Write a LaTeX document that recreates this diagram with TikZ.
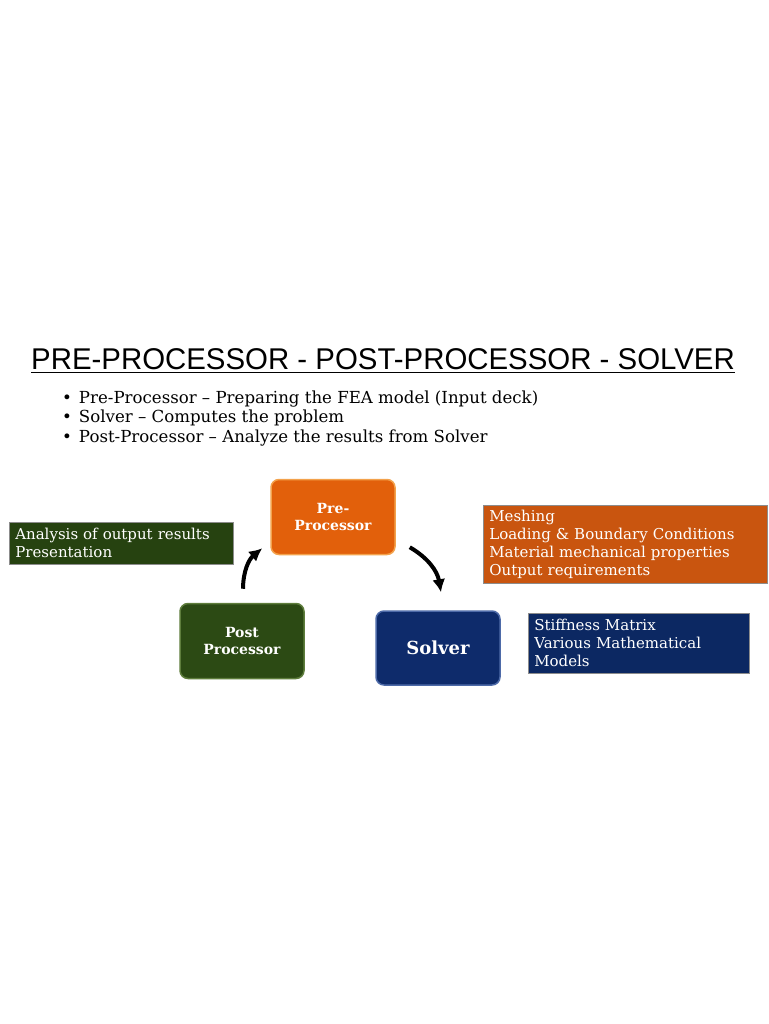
\documentclass[tikz,border=0pt]{standalone}
\usepackage{fontspec}
\setmainfont{DejaVu Serif}
\newfontfamily\titlefont{Liberation Sans}
\usetikzlibrary{arrows.meta,positioning,calc}
\definecolor{preorange}{HTML}{E2600B}
\definecolor{preborder}{HTML}{F3A24C}
\definecolor{postgreen}{HTML}{2C4A14}
\definecolor{postborder}{HTML}{5E7D3C}
\definecolor{solvernavy}{HTML}{0E2B6B}
\definecolor{solverborder}{HTML}{4D6AA8}
\definecolor{noteorange}{HTML}{C9550F}
\definecolor{notegreen}{HTML}{264210}
\definecolor{notenavy}{HTML}{0C2862}
\tikzstyle{stage} = [draw, line width=1.5pt, rounded corners=8pt, text=white, font=\bfseries\fontsize{14}{17.5}\selectfont, align=center, minimum width=124pt, minimum height=75pt]
\tikzstyle{note} = [draw=black!45, line width=0.6pt, text=white, font=\fontsize{15}{18}\selectfont, align=left, anchor=north west, inner xsep=6pt, inner ysep=3pt]
\tikzstyle{Arrow} = [-{Latex[length=13pt,width=13pt]}, line width=4pt]

\begin{document}
\begin{tikzpicture}[x=1pt,y=-1pt]
            \useasboundingbox (0,0) rectangle (768,1024);
            %%%%% Title %%%%%
            \node (title) [anchor=base west, inner sep=0pt] at (31,369) {\titlefont\fontsize{30}{36}\selectfont\scalebox{0.98}[1]{PRE-PROCESSOR - POST-PROCESSOR - SOLVER}};
            \draw [line width=1.4pt] ($(title.south west)+(0,3)$) -- ($(title.south east)+(0,3)$);
            \node (bullets) [anchor=base west, inner sep=0pt, align=left, font=\fontsize{16.6}{19.5}\selectfont] at (62,442) {%
              •\hspace{7pt}Pre-Processor – Preparing the FEA model (Input deck)\\
              •\hspace{7pt}Solver – Computes the problem\\
              •\hspace{7pt}Post-Processor – Analyze the results from Solver};
            %%%%% Stages %%%%%
            \node (pre) [stage, fill=preorange, draw=preborder] at (333,517) {Pre-\\Processor};
            \node (post) [stage, fill=postgreen, draw=postborder] at (242,641) {Post\\Processor};
            \node (solver) [stage, fill=solvernavy, draw=solverborder, minimum height=74pt, font=\bfseries\fontsize{18}{22}\selectfont] at (438,648) {Solver};
            %%%%% Notes %%%%%
            \node (analysis) [note, fill=notegreen, text width=212pt, minimum height=42pt] at (9,522) {Analysis of output results\\Presentation};
            \node (meshing) [note, fill=noteorange, text width=272pt, minimum height=78pt] at (483,505) {Meshing\\Loading \& Boundary Conditions\\Material mechanical properties\\Output requirements};
            \node (stiffness) [note, fill=notenavy, text width=209pt, minimum height=60pt] at (528,613) {Stiffness Matrix\\Various Mathematical\\Models};
            %%%%% Arrows %%%%%
            \draw [Arrow] ($(post.north)+(1,-14)$) to[bend left=25] ($(pre.south west)+(-8,-7)$);
            \draw [Arrow] ($(pre.south east)+(14,-8)$) to[bend left=25] ($(solver.north)+(3,-18)$);
\end{tikzpicture}
\end{document}
